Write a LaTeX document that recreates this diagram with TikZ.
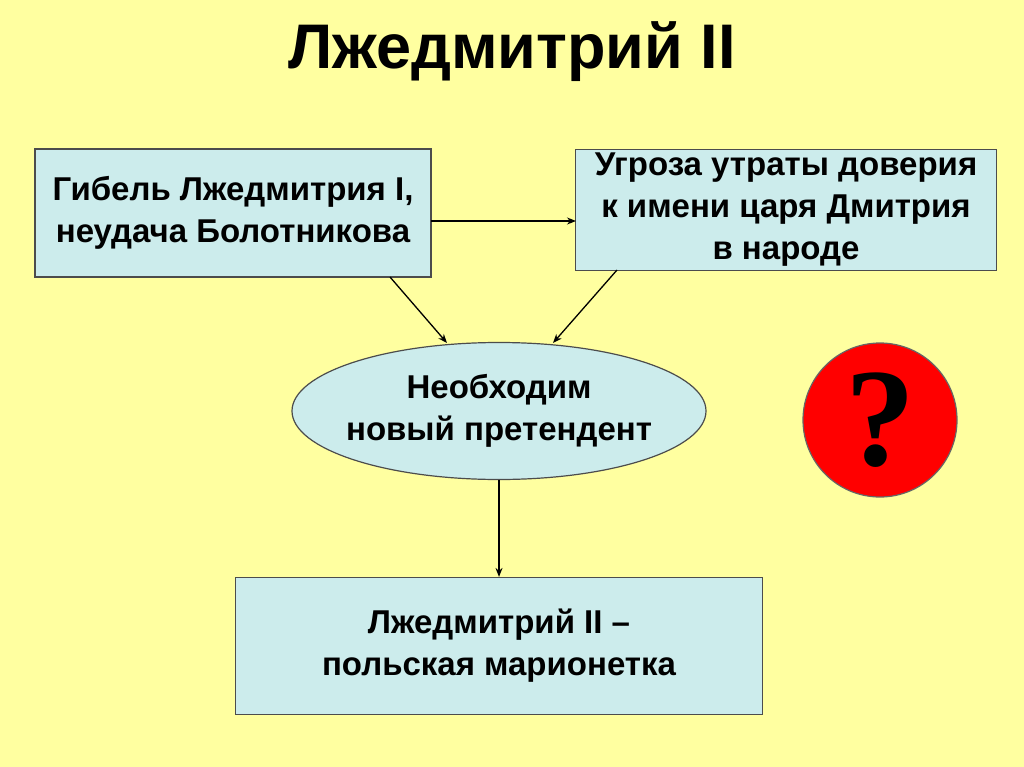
\documentclass[tikz,border=0pt]{standalone}
\usepackage{fontspec}
\setmainfont{Liberation Sans}
\newfontfamily\qfont{Liberation Serif}
\usetikzlibrary{shapes.geometric,arrows.meta}
\definecolor{bgyellow}{RGB}{255,255,160}
\definecolor{boxblue}{RGB}{204,236,236}
\begin{document}
\begin{tikzpicture}[x=1pt,y=-1pt,>={Stealth[length=9pt,width=7pt]},
    infobox/.style={draw=black!70,line width=1.2pt,fill=boxblue,align=center,font=\fontsize{33}{42}\selectfont\bfseries,inner sep=0pt},
    link/.style={->,black,line width=1.3pt}]
    \fill[bgyellow] (0,0) rectangle (1024,767);
    \useasboundingbox (0,0) rectangle (1024,767);

    \node[font=\fontsize{63}{70}\selectfont\bfseries] (title) at (512,52) {Лжедмитрий II};

    \node[infobox,minimum width=396pt,minimum height=128pt] (death) at (233,213)
        {Гибель Лжедмитрия I,\\неудача Болотникова};
    \node[infobox,minimum width=421pt,minimum height=121pt] (threat) at (786,210)
        {Угроза утраты доверия\\к имени царя Дмитрия\\в народе};
    \node[infobox,ellipse,inner xsep=-40pt,inner ysep=-10pt,minimum width=414pt,minimum height=137pt] (need) at (499,411)
        {Необходим\\новый претендент};
    \node[infobox,minimum width=527pt,minimum height=137pt] (puppet) at (499,646)
        {Лжедмитрий II --\\польская марионетка};

    % red sign
    \node[circle,draw=black!60,line width=1.2pt,fill=red,minimum size=154pt,inner sep=0pt,
          font=\qfont\fontsize{140}{140}\selectfont\bfseries] (mark) at (880,420) {?};

    \coordinate (d1) at (431,221);
    \coordinate (t1) at (576,221);
    \draw[link] (d1) -- (t1);
    \draw[link] (390,277) -- (447,343);
    \draw[link] (617,270) -- (553,343);
    \draw[link] (need.south) -- (puppet.north);
\end{tikzpicture}
\end{document}
